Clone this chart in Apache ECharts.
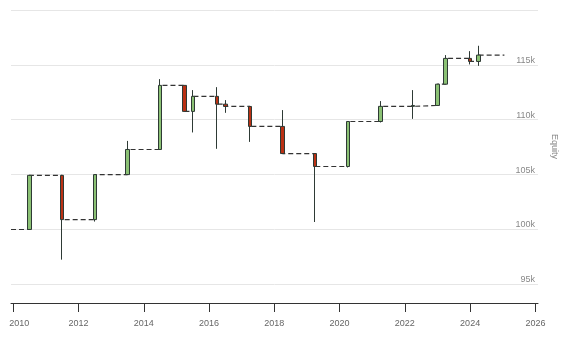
<!DOCTYPE html>
<html>
<head>
<meta charset="utf-8">
<script src="https://cdn.jsdelivr.net/npm/echarts@6/dist/echarts.min.js"></script>
<style>
  html, body { margin: 0; padding: 0; background: #fff; }
  #chart { width: 568px; height: 342px; }
</style>
</head>
<body>
<div id="chart"></div>
<script>
// Period dates (decimal years) and OHLC equity values
const dates = [2010.5, 2011.5, 2012.5, 2013.5, 2014.5, 2015.25, 2015.5, 2016.25, 2016.5, 2017.25,
  2018.25, 2019.25, 2020.25, 2021.25, 2022.25, 2023.0, 2023.25, 2024.0, 2024.25];
const openVals = [100000, 104930, 100900, 105000, 107290, 113130, 110760, 112130, 111420, 111210,
  109390, 106920, 105740, 109840, 111220, 111300, 113240, 115590, 115310];
const closeVals = [104930, 100900, 105000, 107290, 113130, 110760, 112130, 111420, 111210, 109390,
  106920, 105740, 109840, 111220, 111300, 113240, 115590, 115310, 115890];
const lowVals = [100000, 97250, 100720, 105000, 107290, 110760, 108840, 107350, 110630, 107980,
  106920, 100680, 105650, 109750, 110080, 111300, 113240, 115040, 114910];
const highVals = [104980, 104950, 105000, 108070, 113700, 113130, 112700, 112970, 111790, 111210,
  110880, 106920, 109840, 111700, 112700, 113240, 115890, 116250, 116740];

// Starting equity and where the dashed carry line starts / ends
const startEquity = 100000;
const startYear = 2009.93;
const endYear = 2025.05;

const yearTicks = [2010, 2012, 2014, 2016, 2018, 2020, 2022, 2024, 2026];

const candleData = dates.map((d, i) => [d, openVals[i], closeVals[i], lowVals[i], highVals[i]]);

// close of each period carried over to the next open
const carryLine = [[startYear, startEquity]]
  .concat(dates.map((d, i) => [d, closeVals[i]]))
  .concat([[endYear, closeVals[closeVals.length - 1]]]);

const FONT = 'Liberation Sans';

const chart = echarts.init(document.getElementById('chart'), null, { renderer: 'canvas' });

chart.setOption({
  animation: false,
  grid: { left: 11, right: 30, top: 10, bottom: 39 },
  xAxis: {
    type: 'value',
    min: 2009.93,
    max: 2026.08,
    splitLine: { show: false },
    axisLine: { show: true, lineStyle: { color: '#333', width: 1 } },
    axisTick: { show: true, length: 9, customValues: yearTicks, lineStyle: { color: '#333' } },
    axisLabel: {
      customValues: yearTicks,
      margin: 16,
      fontSize: 9,
      fontFamily: FONT,
      color: '#666',
      // first label sits flush with the axis start
      formatter: (v) => (v === yearTicks[0] ? '{first|' + v + '}' : String(v)),
      rich: {
        first: { padding: [0, 0, 0, 12], fontSize: 9, fontFamily: FONT, color: '#666' }
      }
    }
  },
  yAxis: {
    type: 'value',
    position: 'right',
    min: 93300,
    max: 120000,
    splitNumber: 5,
    name: 'Equity',
    nameLocation: 'middle',
    nameRotate: -90,
    nameGap: 12,
    nameTextStyle: { fontSize: 9, fontFamily: FONT, color: '#888', padding: [0, 20, 0, 0] },
    axisLine: { show: false },
    axisTick: { show: false },
    splitLine: { show: true, lineStyle: { color: '#e6e6e6', width: 1 } },
    axisLabel: {
      inside: true,
      margin: 3,
      verticalAlign: 'bottom',
      showMinLabel: false,
      showMaxLabel: false,
      fontSize: 9,
      fontFamily: FONT,
      color: '#888',
      formatter: (v) => (v / 1000) + 'k'
    }
  },
  series: [
    {
      type: 'line',
      data: carryLine,
      step: 'end',
      showSymbol: false,
      z: 1,
      lineStyle: { color: '#333', width: 1.2, type: [5, 3] }
    },
    {
      type: 'candlestick',
      data: candleData,
      encode: { x: 0, y: [1, 2, 3, 4] },
      barWidth: 4,
      z: 3,
      itemStyle: {
        color: '#8bc174',
        color0: '#bb3114',
        borderColor: '#2e3a35',
        borderColor0: '#2e3a35',
        borderColorDoji: '#2e3a35',
        borderWidth: 1
      }
    }
  ]
});
</script>
</body>
</html>
